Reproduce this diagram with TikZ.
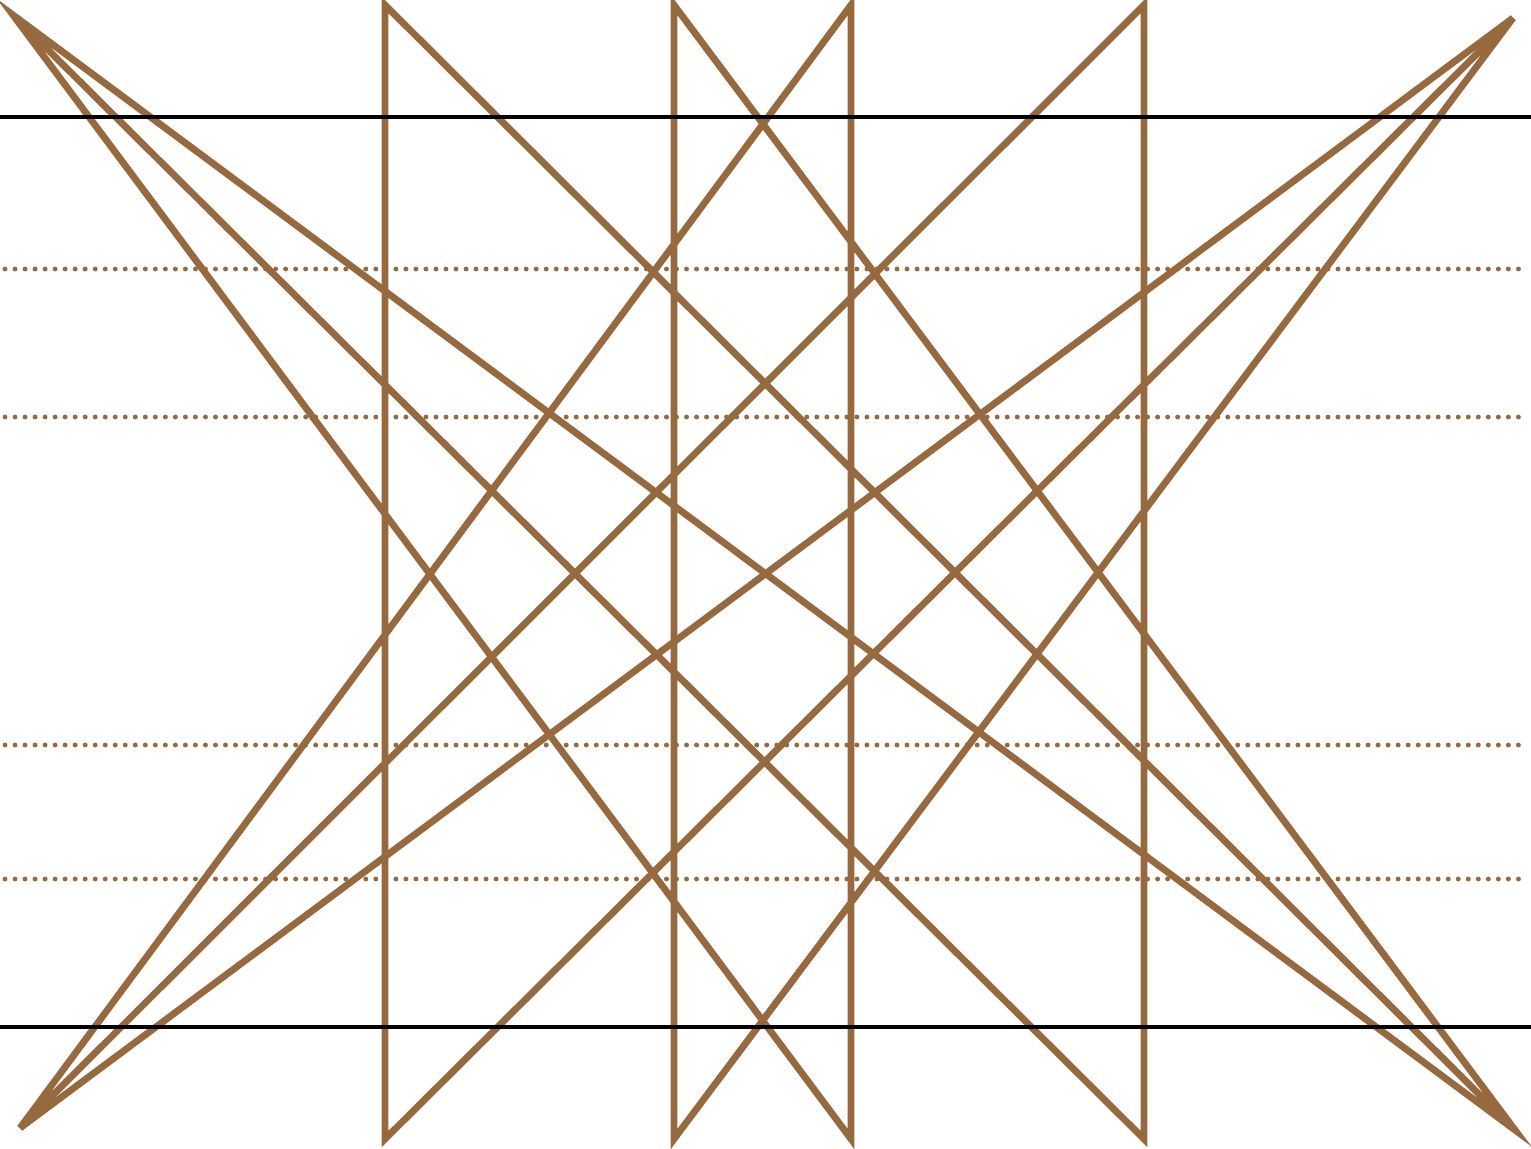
\documentclass[tikz,border=0pt]{standalone}
\usepackage{tikz}
\usetikzlibrary{calc}
\definecolor{woodbrown}{RGB}{150,106,62}
\tikzset{
  string/.style={draw=woodbrown, line width=1.95pt, line join=miter},
  guide/.style={draw=black, line width=1.4pt},
  dotline/.style={draw=woodbrown, line width=1.4pt, line cap=round, dash pattern=on 0pt off 2.85pt}
}

\begin{document}
\begin{tikzpicture}[x=0.01cm, y=-0.01cm]
\useasboundingbox (0,0) rectangle (1531,1148);
\begin{scope}
% corners
\coordinate (tl) at (13,15);
\coordinate (bl) at (20,1128);
\coordinate (tr) at (1513,18);
\coordinate (br) at (1515,1130);
% verticals
\coordinate (a1) at (385,5);
\coordinate (a2) at (385,1139);
\coordinate (b1) at (674,5);
\coordinate (b2) at (674,1139);
\coordinate (c1) at (851,5);
\coordinate (c2) at (851,1139);
\coordinate (d1) at (1144,5);
\coordinate (d2) at (1144,1139);
% dotted rows
\foreach \y/\n in {269/1, 417/2, 745/3, 879/4} {
  \coordinate (p\n) at (5,\y);
  \coordinate (q\n) at (1525,\y);
  \path[dotline] (p\n) -- (q\n);
}
\path[string] (br) -- (a1) -- (a2) -- (tr) -- (b2) -- (b1) -- (br) -- (tl)
  -- (c2) -- (c1) -- (bl) -- (d1) -- (d2) -- (tl);
\path[string] (bl) -- (tr);
% black rules
\coordinate (r1) at (0,117);
\coordinate (s1) at (1531,117);
\coordinate (r2) at (0,1027);
\coordinate (s2) at (1531,1027);
\path[guide] (r1) -- (s1);
\path[guide] (r2) -- (s2);
\end{scope}
\end{tikzpicture}
\end{document}
